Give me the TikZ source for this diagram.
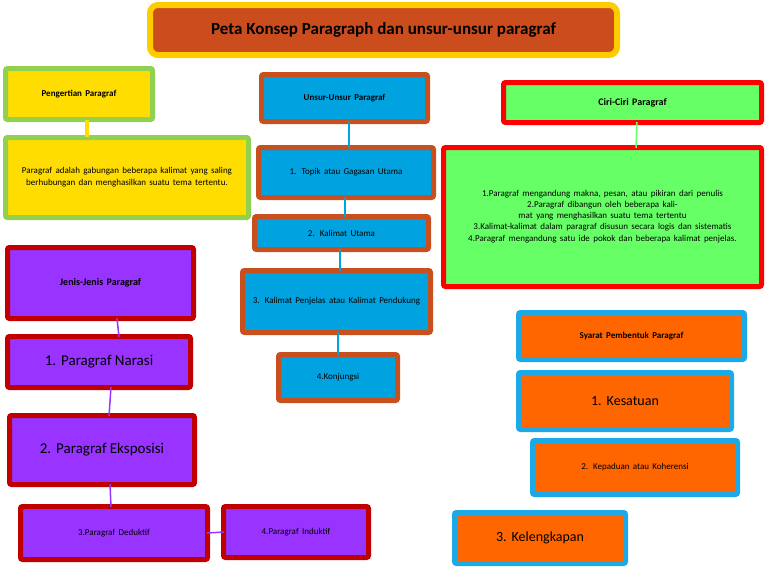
\documentclass[tikz,border=0pt]{standalone}
\usepackage{fontspec}
\setmainfont{Carlito}
\begin{document}
\begin{tikzpicture}[x=1pt,y=-1pt,
 bx/.style={draw, line width=5pt, rounded corners=2pt, align=center, inner sep=2pt, anchor=north west, outer sep=0pt},
 pen/.style={bx, fill=yellow!90!orange, draw=green!60!black!50!lime},
 uns/.style={bx, fill=cyan!70!blue!85!white, draw=orange!60!red!85!black},
 cir/.style={bx, fill=green!60!white, draw=red},
 jen/.style={bx, fill=violet!70!magenta!80!white, draw=red!75!black},
 sya/.style={bx, fill=orange!90!red, draw=cyan!80!blue},
 cn/.style={line width=1.5pt}]
\useasboundingbox (0,0) rectangle (768,576);
\definecolor{pen}{HTML}{FFDD00}\definecolor{peb}{HTML}{92D050}
\definecolor{ub}{HTML}{00A3E0}\definecolor{ud}{HTML}{C8501E}
\definecolor{cf}{HTML}{66FF66}\definecolor{jf}{HTML}{9933FF}\definecolor{jd}{HTML}{C00000}
\definecolor{sf}{HTML}{FF6600}\definecolor{sd}{HTML}{1CA9E8}
\tikzset{pen/.append style={fill=pen,draw=peb}, uns/.append style={fill=ub,draw=ud},
 cir/.append style={fill=cf}, jen/.append style={fill=jf,draw=jd}, sya/.append style={fill=sf,draw=sd}}
\newcommand\bx[6]{\node[#1, minimum width={#4-#2-5}, minimum height={#5-#3-5}, text width={#4-#2-16}] (#6) at ({#2+2.5},{#3+2.5})}
% title
\node[bx, fill=ud!95!red, draw=orange!40!yellow, line width=6pt, rounded corners=8pt, minimum width=467, minimum height=50, font=\bfseries\fontsize{17}{20}\selectfont] (t) at (150,5) {Peta Konsep Paragraph dan unsur-unsur paragraf};
% pengertian
\bx{pen}{3}{66}{155}{122}{p1} {\bfseries\small Pengertian Paragraf};
\bx{pen}{3}{135}{251}{220}{p2} {\small Paragraf adalah gabungan beberapa kalimat yang saling berhubungan dan menghasilkan suatu tema tertentu.};
\draw[line width=4pt, draw=pen] (87,120) -- (87,137);
% unsur
\bx{uns}{259}{72}{430}{124}{u0} {\bfseries\small Unsur-Unsur Paragraf};
\bx{uns}{256}{145}{436}{200}{u1} {\small 1. Topik atau Gagasan Utama};
\bx{uns}{252}{214}{431}{252}{u2} {\small 2. Kalimat Utama};
\bx{uns}{240}{268}{433}{335}{u3} {\small 3. Kalimat Penjelas atau Kalimat Pendukung};
\bx{uns}{276}{352}{400}{403}{u4} {\small 4.Konjungsi};
\draw[cn, ub] (349,121) -- (349,148) (345,197) -- (345,217) (340,249) -- (340,271) (338,332) -- (338,355);
% ciri
\bx{cir}{501}{80}{764}{125}{c0} {\bfseries\normalsize Ciri-Ciri Paragraf};
\bx{cir}{441}{145}{764}{289}{c1} {\small 1.Paragraf mengandung makna, pesan, atau pikiran dari penulis\\2.Paragraf dibangun oleh beberapa kalimat yang menghasilkan suatu tema tertentu\\3.Kalimat-kalimat dalam paragraf disusun secara logis dan sistematis\\4.Paragraf mengandung satu ide pokok dan beberapa kalimat penjelas.};
\draw[cn, cf] (637,122) -- (636,148);
% jenis
\bx{jen}{5}{245}{196}{321}{j0} {\bfseries\normalsize Jenis-Jenis Paragraf};
\bx{jen}{5}{334}{193}{390}{j1} {\fontsize{15}{18}\selectfont 1. Paragraf Narasi};
\bx{jen}{7}{413}{197}{487}{j2} {\fontsize{15}{18}\selectfont 2. Paragraf Eksposisi};
\bx{jen}{18}{504}{210}{562}{j3} {\small 3.Paragraf Deduktif};
\bx{jen}{221}{504}{371}{560}{j4} {\small 4.Paragraf Induktif};
\draw[cn, jf] (117,318) -- (119,337) (111,387) -- (109,416) (110,484) -- (111,507) (207,533) -- (224,532);
% syarat
\bx{sya}{516}{310}{747}{362}{s0} {\bfseries\small Syarat Pembentuk Paragraf};
\bx{sya}{516}{370}{734}{432}{s1} {\fontsize{14}{17}\selectfont 1. Kesatuan};
\bx{sya}{530}{438}{740}{497}{s2} {\small 2. Kepaduan atau Koherensi};
\bx{sya}{452}{510}{628}{566}{s3} {\fontsize{14}{17}\selectfont 3. Kelengkapan};
\end{tikzpicture}
\end{document}
